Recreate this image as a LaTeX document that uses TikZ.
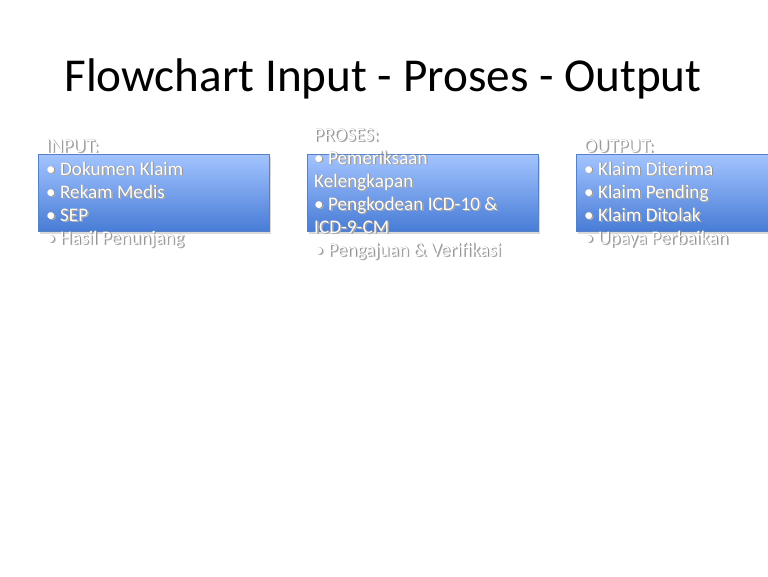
\documentclass[tikz,border=0pt]{standalone}
\usepackage{fontspec}
\setmainfont{Carlito}
\usetikzlibrary{
    positioning,
    shadows,
    backgrounds
    }

% white text with a soft grey shadow under it
\newcommand{\shadowed}[1]{%
    \makebox[0pt][l]{\hspace{1.4pt}\raisebox{-1.8pt}{\textcolor{black!32}{#1}}}%
    \makebox[0pt][l]{\hspace{0.7pt}\raisebox{-0.9pt}{\textcolor{black!45}{#1}}}%
    #1}

\begin{document}
\begin{tikzpicture}[x=1pt, y=-1pt]
% chktex-file 8
\tikzset{panel/.style =
        {
            rectangle,
            draw={rgb,255:red,84;green,130;blue,196},
            top color={rgb,255:red,163;green,196;blue,255},
            bottom color={rgb,255:red,72;green,124;blue,214},
            minimum width=231pt,
            minimum height=77pt,
            anchor=north west,
            inner sep=0pt,
            drop shadow={shadow xshift=1.5pt, shadow yshift=-2.5pt, opacity=0.3}
        }
}

\tikzset{line/.style =
        {
            anchor=base west,
            inner sep=0pt,
            font=\fontsize{19.2}{23}\selectfont,
            text=white
        }
}

\tikzset{heading/.style =
        {
            anchor=base,
            inner sep=0pt,
            font=\fontsize{47.2}{56}\selectfont,
            text=black
        }
}

		\useasboundingbox (0,0) rectangle (768,576);
		\clip (0,0) rectangle (768,576);

		\node[heading] at (383,91) (title) {Flowchart Input - Proses - Output};

		\foreach \col / \x in {in/38, pr/307, out/576}
		\node[panel] at (\x,154) (box-\col) {};

		\foreach \col / \x / \y / \lines in
			{in/46/152/{INPUT:, • Dokumen Klaim, • Rekam Medis, • SEP, • Hasil Penunjang},
				pr/314/141/{PROSES:, • Pemeriksaan, Kelengkapan, • Pengkodean ICD-10 \&, ICD-9-CM, • Pengajuan \& Verifikasi},
				out/584/152/{OUTPUT:, • Klaim Diterima, • Klaim Pending, • Klaim Ditolak, • Upaya Perbaikan}}
			{
				\foreach \txt [count=\i] in \lines
				\node[line] at (\x,\y+23*\i-23) (\col-\i) {\shadowed{\txt}};
			}

	\end{tikzpicture}
\end{document}
